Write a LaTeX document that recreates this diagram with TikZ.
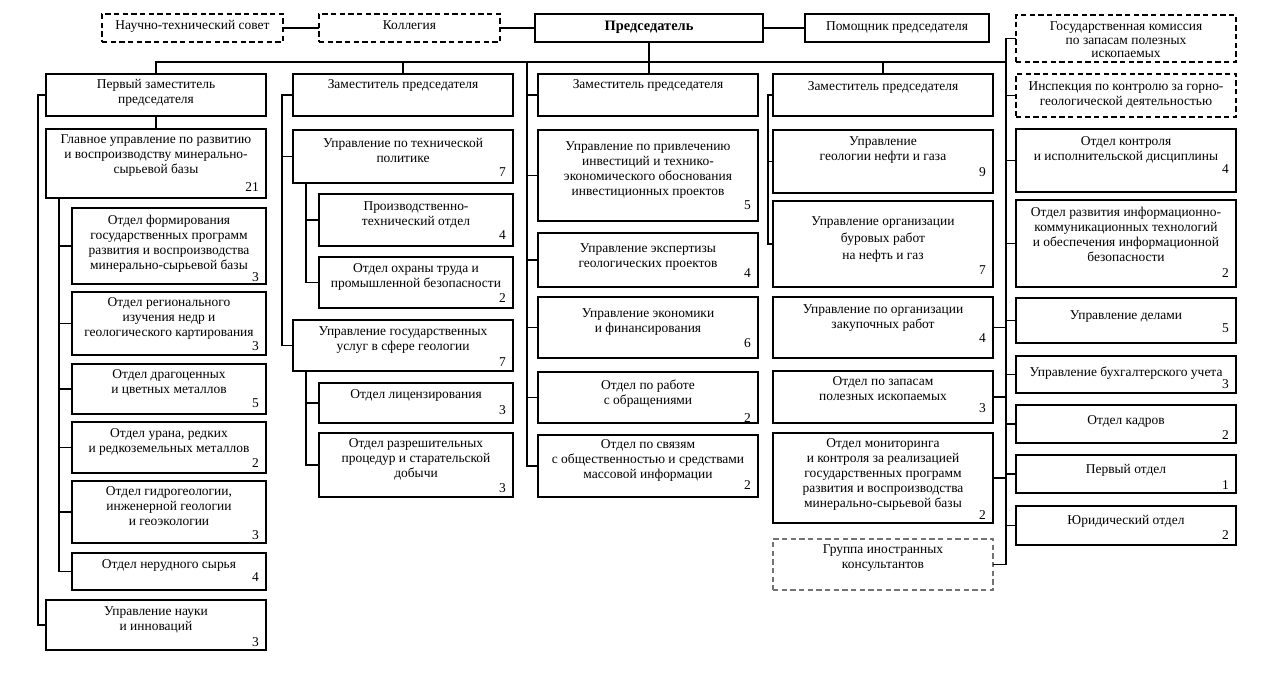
\documentclass[tikz,border=0pt]{standalone}
\usepackage{fontspec}
\setmainfont{Liberation Serif}
\usetikzlibrary{calc}
\tikzset{
  bxs/.style={draw, line width=1pt, inner sep=0pt, outer sep=0pt},
  dbx/.style={bxs, dash pattern=on 4pt off 2.5pt},
  gbx/.style={dbx, draw=black!55},
  cbx/.style={bxs, line width=1.3pt},
  txt/.style={inner sep=0pt, align=center, anchor=north, font=\fontsize{10.1pt}{11.25pt}\selectfont},
  numst/.style={inner sep=0pt, anchor=east, font=\fontsize{10.1pt}{11.25pt}\selectfont},
  ln/.style={line width=0.9pt},
}
\newcommand{\bx}[8][10]{%
  \pgfmathsetmacro\bw{(#6-#4)*0.75}%
  \pgfmathsetmacro\bh{(#7-#5)*0.75}%
  \node[#2, minimum width=\bw pt, minimum height=\bh pt] (#3) at ({(#4+#6)/2},{(#5+#7)/2}) {};
  \node[txt] (#3-t) at ({(#4+#6)/2},{#5+#1-3.5}) {#8};
}
\newcommand{\nm}[3]{\node[numst] (#1-n) at ($(#1.east |- 0,#2)+(-7,0)$) {#3};}
\begin{document}
\begin{tikzpicture}[x=0.75pt,y=-0.75pt]
\useasboundingbox (0,0) rectangle (1278,682);
\fill[white] (0,0) rectangle (1278,682);

% top row
\bx[10]{dbx}{nts}{102}{14}{283}{42}{Научно-технический совет}
\bx[10]{dbx}{kol}{319}{14}{500}{42}{Коллегия}
\bx[10]{cbx}{chair}{535}{14}{763}{42}{\fontsize{10.8pt}{12pt}\selectfont\bfseries Председатель}
\bx[11]{bxs}{pom}{805}{14}{989}{42}{Помощник председателя}
\bx[10]{dbx}{gk}{1016}{15}{1236}{62}{Государственная комиссия\\[-1pt]по запасам полезных\\[-1pt]ископаемых}
\bx[11]{dbx}{ins}{1016}{74}{1236}{117}{Инспекция по контролю за горно-\\геологической деятельностью}

% column 1
\bx[9]{bxs}{fd}{46}{74}{266}{116}{Первый заместитель\\председателя}
\bx[9]{bxs}{gu}{46}{129}{266}{198}{Главное управление по развитию\\и воспроизводству минерально-\\сырьевой базы}
\nm{gu}{187}{21}
\bx[10]{bxs}{fa}{72}{208}{266}{284}{Отдел формирования\\государственных программ\\развития и воспроизводства\\минерально-сырьевой базы}
\nm{fa}{277}{3}
\bx[9]{bxs}{fb}{72}{292}{266}{355}{Отдел регионального\\изучения недр и\\геологического картирования}
\nm{fb}{346}{3}
\bx[9]{bxs}{fc}{72}{364}{266}{414}{Отдел драгоценных\\и цветных металлов}
\nm{fc}{403}{5}
\bx[10]{bxs}{fdd}{72}{422}{266}{473}{Отдел урана, редких\\и редкоземельных металлов}
\nm{fdd}{463}{2}
\bx[9]{bxs}{fe}{72}{481}{266}{543}{Отдел гидрогеологии,\\инженерной геологии\\и геоэкологии}
\nm{fe}{535}{3}
\bx[10]{bxs}{ff}{72}{553}{266}{590}{Отдел нерудного сырья}
\nm{ff}{577}{4}
\bx[10]{bxs}{un}{46}{600}{266}{650}{Управление науки\\и инноваций}
\nm{un}{642}{3}

% column 2
\bx[9]{bxs}{dB}{293}{74}{513}{116}{Заместитель председателя}
\bx[12]{bxs}{tp}{293}{130}{513}{183}{Управление по технической\\политике}
\nm{tp}{172}{7}
\bx[11]{bxs}{pt}{319}{194}{513}{246}{Производственно-\\технический отдел}
\nm{pt}{235}{4}
\bx[10]{bxs}{ot}{319}{257}{513}{308}{Отдел охраны труда и\\промышленной безопасности}
\nm{ot}{298}{2}
\bx[10]{bxs}{ug}{293}{320}{513}{371}{Управление государственных\\услуг в сфере геологии}
\nm{ug}{362}{7}
\bx[10]{bxs}{lic}{319}{383}{513}{423}{Отдел лицензирования}
\nm{lic}{410}{3}
\bx[9]{bxs}{rp}{319}{433}{513}{497}{Отдел разрешительных\\процедур и старательской\\добычи}
\nm{rp}{488}{3}

% column 3
\bx[9]{bxs}{dC}{538}{74}{758}{116}{Заместитель председателя}
\bx[15]{bxs}{inv}{538}{130}{758}{221}{Управление по привлечению\\инвестиций и технико-\\экономического обоснования\\инвестиционных проектов}
\nm{inv}{205}{5}
\bx[14]{bxs}{exp}{538}{233}{758}{287}{Управление экспертизы\\геологических проектов}
\nm{exp}{273}{4}
\bx[15]{bxs}{ek}{538}{297}{758}{358}{Управление экономики\\и финансирования}
\nm{ek}{343}{6}
\bx[11]{bxs}{obr}{538}{372}{758}{423}{Отдел по работе\\с обращениями}
\nm{obr}{418}{2}
\bx[8]{bxs}{sv}{538}{435}{758}{497}{Отдел по связям\\с общественностью и средствами\\массовой информации}
\nm{sv}{485}{2}

% column 4
\bx[11]{bxs}{dD}{773}{74}{993}{116}{Заместитель председателя}
\bx[10]{bxs}{ng}{773}{130}{993}{193}{Управление\\геологии нефти и газа}
\nm{ng}{172}{9}
\bx[19]{bxs}{bur}{773}{201}{993}{287}{Управление организации\\[1.5pt]буровых работ\\[1.5pt]на нефть и газ}
\nm{bur}{270}{7}
\bx[11]{bxs}{zak}{773}{297}{993}{358}{Управление по организации\\закупочных работ}
\nm{zak}{338}{4}
\bx[9]{bxs}{zap}{773}{371}{993}{423}{Отдел по запасам\\полезных ископаемых}
\nm{zap}{408}{3}
\bx[9]{bxs}{mon}{773}{433}{993}{523}{Отдел мониторинга\\и контроля за реализацией\\государственных программ\\развития и воспроизводства\\минерально-сырьевой базы}
\nm{mon}{515}{2}
\bx[9]{gbx}{grp}{773}{539}{993}{590}{Группа иностранных\\консультантов}

% right column
\bx[11]{bxs}{ok}{1016}{129}{1236}{192}{Отдел контроля\\и исполнительской дисциплины}
\nm{ok}{169}{4}
\bx[10]{bxs}{ir}{1016}{200}{1236}{287}{Отдел развития информационно-\\коммуникационных технологий\\и обеспечения информационной\\безопасности}
\nm{ir}{273}{2}
\bx[16]{bxs}{ud}{1016}{298}{1236}{343}{Управление делами}
\nm{ud}{328}{5}
\bx[14]{bxs}{bu}{1016}{356}{1236}{393}{Управление бухгалтерского учета}
\nm{bu}{384}{3}
\bx[14]{bxs}{kad}{1016}{405}{1236}{443}{Отдел кадров}
\nm{kad}{435}{2}
\bx[13]{bxs}{po}{1016}{455}{1236}{493}{Первый отдел}
\nm{po}{485}{1}
\bx[13]{bxs}{yu}{1016}{506}{1236}{545}{Юридический отдел}
\nm{yu}{535}{2}

% connectors: top row
\draw[ln] (nts.east) -- (kol.west);
\draw[ln] (kol.east) -- (chair.west);
\draw[ln] (chair.east) -- (pom.west);

% main bus
\coordinate (rv) at (1006,62);
\draw[ln] (fd.north) |- (rv);
\draw[ln] (dB.north) -- (dB.north |- rv);
\draw[ln] (chair.south) -- (chair.south |- dC.north);
\draw[ln] (dD.north) -- (dD.north |- rv);

% right spine
\draw[ln] (gk.west) -| (rv |- grp.east) -- (grp.east);
\foreach \n in {ins,ok,ir,ud,bu,kad,po,yu} \draw[ln] (\n.west) -- (\n.west -| rv);
\foreach \n in {zak,zap,mon} \draw[ln] (\n.east) -- (\n.east -| rv);

% column 1
\draw[ln] (fd.west) -- ++(-8,0) |- (un.west);
\draw[ln] (fd.south) -- (gu.north);
\coordinate (s1) at ($(gu.south west)+(13,0)$);
\draw[ln] (s1) |- (ff.west);
\foreach \n in {fa,fb,fc,fdd,fe} \draw[ln] (\n.west) -- (\n.west -| s1);

% column 2
\coordinate (c2) at ($(dB.west)+(-11,0)$);
\draw[ln] (dB.west) -- (c2) |- (ug.west);
\draw[ln] (tp.west) -- (tp.west -| c2);
\coordinate (s2) at ($(tp.south west)+(13,0)$);
\draw[ln] (s2) |- (ot.west);
\draw[ln] (pt.west) -- (pt.west -| s2);
\coordinate (s3) at ($(ug.south west)+(13,0)$);
\draw[ln] (s3) |- (rp.west);
\draw[ln] (lic.west) -- (lic.west -| s3);

% column 3
\coordinate (c3) at (527,62);
\draw[ln] (c3) |- (sv.west);
\foreach \n in {dC,inv,exp,ek,obr} \draw[ln] (\n.west) -- (\n.west -| c3);

% column 4
\coordinate (c4) at ($(dD.west)+(-5,0)$);
\draw[ln] (dD.west) -- (c4) |- (bur.west);
\draw[ln] (ng.west) -- (ng.west -| c4);
\end{tikzpicture}
\end{document}
